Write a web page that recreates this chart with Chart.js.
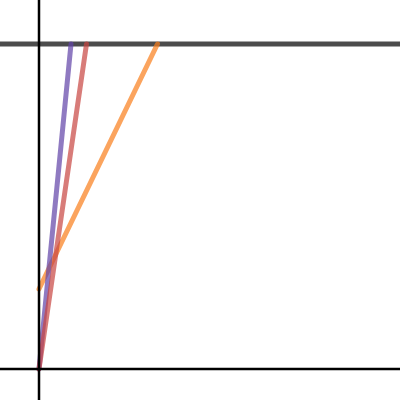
<!DOCTYPE html>
<html><head><meta charset="utf-8">
<script src="https://cdn.jsdelivr.net/npm/chart.js@4.4.1/dist/chart.umd.min.js"></script>
<style>html,body{margin:0;padding:0;background:#fff}#wrap{width:400px;height:400px}</style>
</head><body><div id="wrap"><canvas id="c" width="400" height="400"></canvas></div>
<script>
// axis window (units)
const xRange = [-3.9, 36.1];
const yRange = [-3.1, 36.9];
// horizontal limit line
const limitY = 32.5;
// series: start and end points
const purpleX = [0, 3.2];
const purpleY = [0, 32.5];
const redX = [0, 4.75];
const redY = [0, 32.5];
const orangeX = [0, 11.85];
const orangeY = [8.0, 32.5];

const pts = (xs, ys) => xs.map((x, i) => ({x, y: ys[i]}));
const ds = (data, color, width) => ({data, borderColor: color, borderWidth: width, pointRadius: 0, showLine: true, fill: false, borderCapStyle: 'round', tension: 0});

new Chart(document.getElementById('c'), {
  type: 'scatter',
  data: {
    datasets: [
      ds(pts([xRange[0], xRange[1]], [0, 0]), '#000000', 2.5),
      ds(pts([0, 0], [yRange[0], yRange[1]]), '#000000', 2.5),
      ds(pts(redX, redY), 'rgba(199,68,64,0.7)', 5),
      ds(pts(purpleX, purpleY), 'rgba(96,66,166,0.7)', 5),
      ds(pts(orangeX, orangeY), 'rgba(250,126,25,0.7)', 5),
      ds(pts([xRange[0], xRange[1]], [limitY, limitY]), 'rgba(0,0,0,0.7)', 5)
    ]
  },
  options: {
    responsive: false, animation: false,
    layout: {padding: 0},
    plugins: {legend: {display: false}, tooltip: {enabled: false}},
    scales: {
      x: {type: 'linear', min: xRange[0], max: xRange[1], display: false},
      y: {type: 'linear', min: yRange[0], max: yRange[1], display: false}
    }
  }
});
</script></body></html>
